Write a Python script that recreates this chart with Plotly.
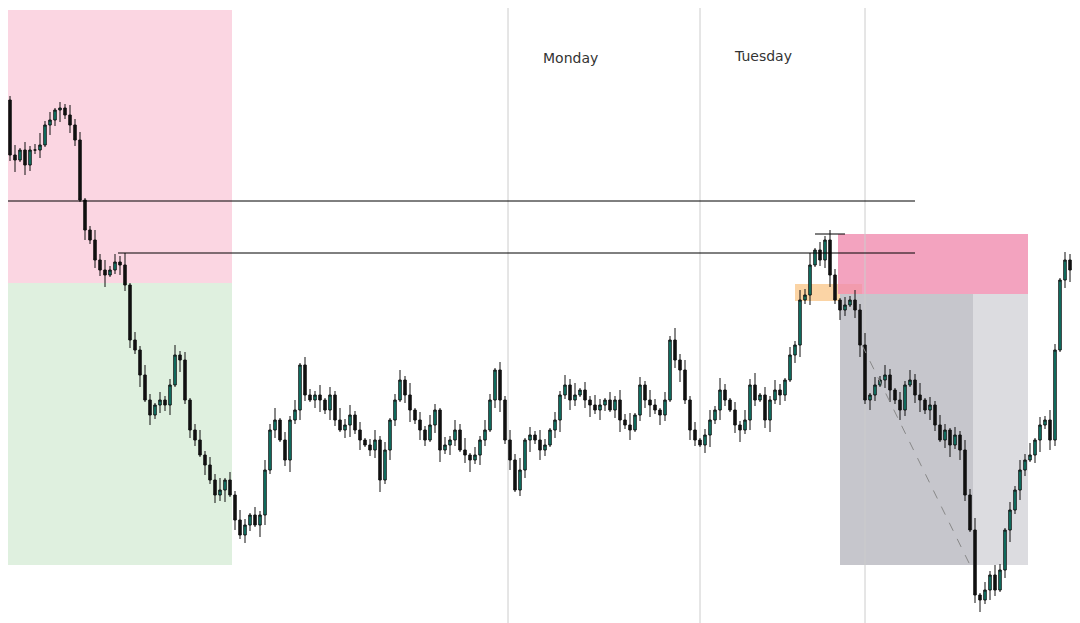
import plotly.graph_objects as go

# price expressed as chart height units (higher value = higher price)
closes_px = [95,100,155,160,150,165,150,150,145,125,120,110,108,115,125,140,200,230,240,260,
 270,275,270,262,265,285,340,350,375,400,415,405,400,405,385,355,360,400,430,440,
 455,465,480,495,490,480,495,520,535,525,515,525,515,470,430,420,440,460,420,410,
 365,395,400,395,400,410,395,420,430,425,415,430,440,445,450,440,480,450,420,400,
 380,395,410,420,430,440,425,410,450,445,440,430,450,455,460,455,440,430,400,370,
 400,440,460,490,470,440,435,440,450,445,430,420,395,385,400,395,390,400,405,410,
 405,400,410,400,420,425,430,415,385,400,405,410,415,400,340,360,370,400,430,440,
 445,435,420,410,390,400,410,425,430,420,385,400,395,420,400,390,395,380,355,345,
 300,295,265,250,260,240,275,300,310,305,300,310,345,400,395,385,380,375,390,400,
 410,385,380,395,400,410,405,425,440,430,445,435,450,495,530,595,600,590,575,590,
 570,530,510,490,470,460,455,440,425,420,440,350,280,260,270,265,285]
upper_wick = ("3525142362413253412535243614253142352413524361425314253614251432514263524135241352614253142536142531425361425314253614253142536142531426352413526314253614253142536142531425361425314253614253142536142531425361425314"
              "31425361425314253614253142536142531425")
lower_wick = ("2436153241536243152436125342615243516243152436152431652413625314625314625134625314625314625314625314625134625314625314625314625134625314625314625314625314625314625134625314625314625314625314625314625314625314625314625"
              "24361532415362431524361253426152435162")
x_step = 5

n = len(closes_px)
xs = [i * x_step for i in range(n)]
close = [-v for v in closes_px]
open_ = [-95] + close[:-1]
high = [max(o, c) + int(upper_wick[i]) * 2 for i, (o, c) in enumerate(zip(open_, close))]
low = [min(o, c) - int(lower_wick[i]) * 2 for i, (o, c) in enumerate(zip(open_, close))]

fig = go.Figure(go.Candlestick(
    x=xs, open=open_, high=high, low=low, close=close,
    increasing=dict(line=dict(color="#111", width=1), fillcolor="#0f8c7a"),
    decreasing=dict(line=dict(color="#111", width=1), fillcolor="#111"),
    whiskerwidth=0, showlegend=False))

def rect(x0, y0, x1, y1, color):
    fig.add_shape(type="rect", x0=x0, x1=x1, y0=-y0, y1=-y1, fillcolor=color,
                  line_width=0, layer="below")

rect(0, 10, 232, 283, "#fbd6e2")
rect(0, 283, 232, 565, "#dff0df")
rect(795, 284, 862, 301, "#fbd4a5")
rect(838, 234, 1028, 294, "rgba(240,140,175,0.8)")
rect(840, 294, 973, 565, "#c6c6cc")
rect(973, 294, 1028, 565, "#dcdce0")
for vx in [508, 700, 865]:
    fig.add_shape(type="line", x0=vx, x1=vx, y0=0, y1=-623, line=dict(color="#ccc", width=1), layer="below")
for (x0, x1, y) in [(0, 915, 201), (118, 915, 253), (815, 845, 234)]:
    fig.add_shape(type="line", x0=x0, x1=x1, y0=-y, y1=-y, line=dict(color="#000", width=1))
fig.add_shape(type="line", x0=862, x1=970, y0=-345, y1=-565, line=dict(color="#888", width=1, dash="dash"))
for t, x, y in [("Monday", 570, 58), ("Tuesday", 763, 56)]:
    fig.add_annotation(x=x, y=-y, text=t, showarrow=False, font=dict(size=14, color="#333", family="DejaVu Sans"))

fig.update_layout(width=1072, height=615, margin=dict(l=0, r=0, t=0, b=0),
    plot_bgcolor="white", paper_bgcolor="white",
    xaxis=dict(range=[8, 1080], visible=False, rangeslider=dict(visible=False)),
    yaxis=dict(range=[-623, -8], visible=False))
fig.write_html("out.html")
